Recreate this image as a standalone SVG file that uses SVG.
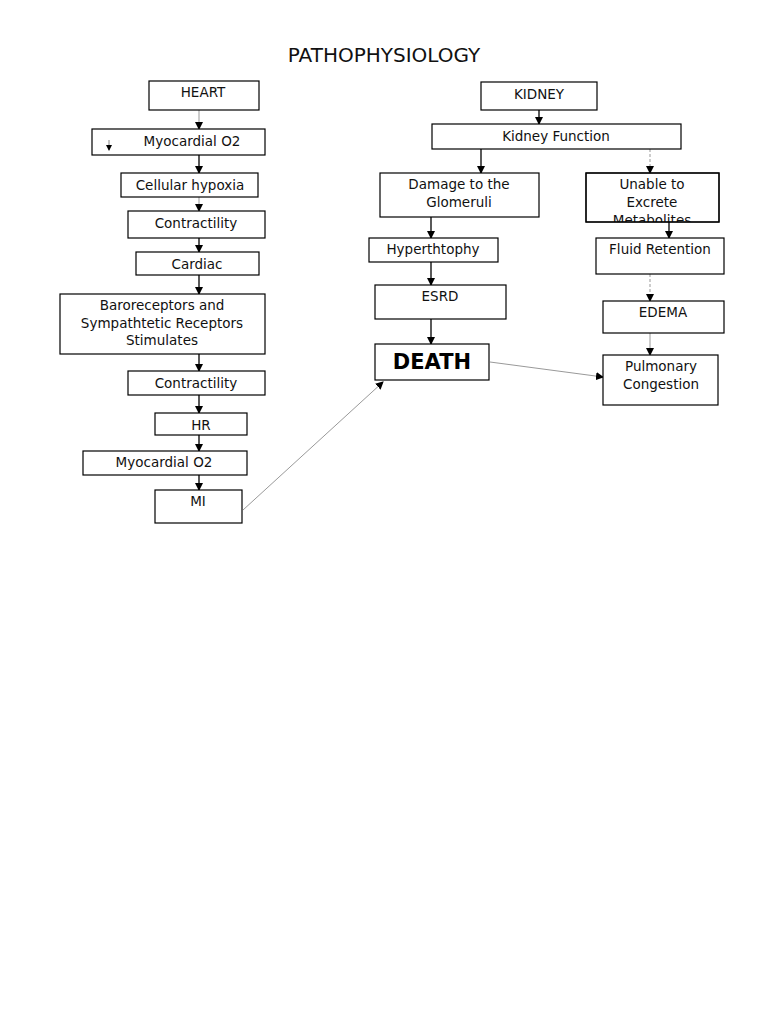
<svg xmlns="http://www.w3.org/2000/svg" width="768" height="1024" viewBox="0 0 768 1024">
<style>
rect{fill:#fff;stroke:#000;stroke-width:1.2}
text{font-family:"DejaVu Sans",sans-serif;font-size:13.5px;fill:#111;text-anchor:middle}
.c line{stroke:#000;stroke-width:1.3}
.c line.g{stroke:#999;stroke-width:1}
</style>
<defs>
<marker id="a" markerWidth="8" markerHeight="8" refX="7" refY="4" orient="auto" markerUnits="userSpaceOnUse"><path d="M0,0L8,4L0,8z" fill="#000"/></marker>
<clipPath id="cu"><rect x="586" y="173" width="133" height="49"/></clipPath>
</defs>
<rect x="0" y="0" width="768" height="1024" style="fill:#fff;stroke:none"/>
<text x="384" y="62" style="font-size:20px">PATHOPHYSIOLOGY</text>
<g class="c">
<line class="g" x1="199" y1="110" x2="199" y2="129" marker-end="url(#a)"/>
<line x1="199" y1="155" x2="199" y2="173" marker-end="url(#a)"/>
<line class="g" x1="199" y1="197" x2="199" y2="211" marker-end="url(#a)"/>
<line x1="199" y1="238" x2="199" y2="252" marker-end="url(#a)"/>
<line x1="199" y1="275" x2="199" y2="294" marker-end="url(#a)"/>
<line x1="199" y1="354" x2="199" y2="371" marker-end="url(#a)"/>
<line x1="199" y1="395" x2="199" y2="413" marker-end="url(#a)"/>
<line x1="199" y1="435" x2="199" y2="451" marker-end="url(#a)"/>
<line x1="199" y1="475" x2="199" y2="490" marker-end="url(#a)"/>
<line class="g" x1="243" y1="510" x2="383" y2="382" marker-end="url(#a)"/>
<line x1="539" y1="110" x2="539" y2="124" marker-end="url(#a)"/>
<line x1="481" y1="149" x2="481" y2="173" marker-end="url(#a)"/>
<line class="g" x1="650" y1="149" x2="650" y2="173" stroke-dasharray="3,2" marker-end="url(#a)"/>
<line x1="431" y1="217" x2="431" y2="238" marker-end="url(#a)"/>
<line x1="669" y1="222" x2="669" y2="238" marker-end="url(#a)"/>
<line x1="431" y1="262" x2="431" y2="285" marker-end="url(#a)"/>
<line class="g" x1="650" y1="274" x2="650" y2="301" stroke-dasharray="3,2" marker-end="url(#a)"/>
<line x1="431" y1="319" x2="431" y2="344" marker-end="url(#a)"/>
<line class="g" x1="650" y1="333" x2="650" y2="355" marker-end="url(#a)"/>
<line class="g" x1="490" y1="362" x2="603" y2="377" marker-end="url(#a)"/>
</g>
<g id="heart"><rect x="149" y="81" width="110" height="29"/><text x="203" y="97">HEART</text></g>
<g id="myo1"><rect x="92" y="129" width="173" height="26"/><text x="192" y="146">Myocardial O2</text>
<line x1="109" y1="140" x2="109" y2="150" stroke="#666" stroke-width="0.8"/><path d="M106,145L112,145L109,151z" fill="#000"/></g>
<g id="hyp"><rect x="121" y="173" width="137" height="24"/><text x="190" y="190">Cellular hypoxia</text></g>
<g id="con1"><rect x="128" y="211" width="137" height="27"/><text x="196" y="228">Contractility</text></g>
<g id="card"><rect x="136" y="252" width="123" height="23"/><text x="197" y="269">Cardiac</text></g>
<g id="baro"><rect x="60" y="294" width="205" height="60"/><text x="162" y="310">Baroreceptors and</text><text x="162" y="328">Sympathtetic Receptors</text><text x="162" y="345">Stimulates</text></g>
<g id="con2"><rect x="128" y="371" width="137" height="24"/><text x="196" y="388">Contractility</text></g>
<g id="hr"><rect x="155" y="413" width="92" height="22"/><text x="201" y="430">HR</text></g>
<g id="myo2"><rect x="83" y="451" width="164" height="24"/><text x="164" y="467">Myocardial O2</text></g>
<g id="mi"><rect x="155" y="490" width="87" height="33"/><text x="198" y="506">MI</text></g>
<g id="kidney"><rect x="481" y="82" width="116" height="28"/><text x="539" y="99">KIDNEY</text></g>
<g id="kf"><rect x="432" y="124" width="249" height="25"/><text x="556" y="141">Kidney Function</text></g>
<g id="dam"><rect x="380" y="173" width="159" height="44"/><text x="459" y="189">Damage to the</text><text x="459" y="207">Glomeruli</text></g>
<g id="unable"><rect x="586" y="173" width="133" height="49"/><g clip-path="url(#cu)"><text x="652" y="189">Unable to</text><text x="652" y="207">Excrete</text><text x="652" y="225">Metabolites</text></g><rect x="586" y="173" width="133" height="49" style="fill:none"/></g>
<g id="hypt"><rect x="369" y="238" width="129" height="24"/><text x="433" y="254">Hyperthtophy</text></g>
<g id="fluid"><rect x="596" y="238" width="128" height="36"/><text x="660" y="254">Fluid Retention</text></g>
<g id="esrd"><rect x="375" y="285" width="131" height="34"/><text x="440" y="301">ESRD</text></g>
<g id="edema"><rect x="603" y="301" width="121" height="32"/><text x="663" y="317">EDEMA</text></g>
<g id="death"><rect x="375" y="344" width="114" height="36"/><text x="432" y="369" style="font-size:21px;font-weight:bold;fill:#000">DEATH</text></g>
<g id="pulm"><rect x="603" y="355" width="115" height="50"/><text x="661" y="371">Pulmonary</text><text x="661" y="389">Congestion</text></g>
</svg>
